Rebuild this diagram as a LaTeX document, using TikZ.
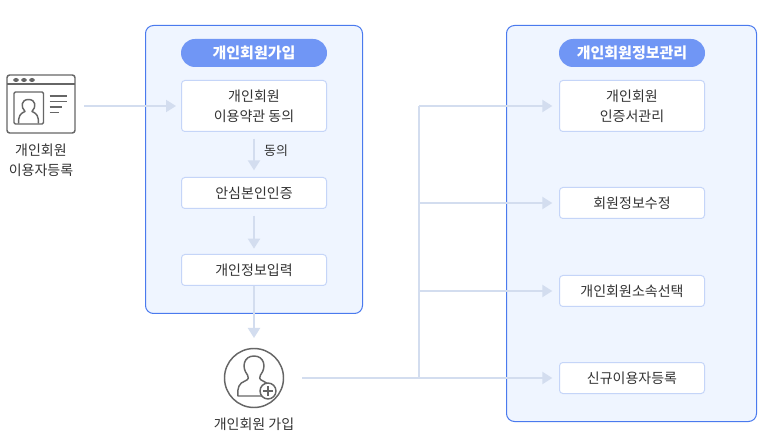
\documentclass[tikz,border=0pt]{standalone}
\usepackage{fontspec}
\setmainfont{Noto Sans CJK KR}
\usetikzlibrary{arrows.meta}
\definecolor{panelfill}{HTML}{EFF5FF}
\definecolor{panelline}{HTML}{4A7AEE}
\definecolor{pillfill}{HTML}{7096F5}
\definecolor{boxline}{HTML}{C5D5F8}
\definecolor{arrowc}{HTML}{D3DDEF}
\definecolor{iconc}{HTML}{666666}
\definecolor{textc}{HTML}{333333}
\tikzset{
  px/.style={x=0.75pt,y=-0.75pt},
  panel/.style={draw=panelline,fill=panelfill,line width=0.75pt,rounded corners=6pt},
  pill/.style={fill=pillfill,rounded corners=10.5pt,minimum width=109.5pt,minimum height=21pt,inner sep=0pt,text=white,font=\fontsize{11.25pt}{13pt}\selectfont\bfseries},
  itembox/.style={draw=boxline,fill=white,line width=0.75pt,rounded corners=2.5pt,minimum width=108.75pt,inner sep=0pt,text=textc,align=center,font=\fontsize{10.5pt}{15pt}\selectfont},
  tall/.style={minimum height=38.25pt},
  short/.style={minimum height=23.25pt},
  lbl/.style={text=textc,align=center,inner sep=0pt,font=\fontsize{10.5pt}{15pt}\selectfont},
  conn/.style={draw=arrowc,line width=1.5pt},
  flow/.style={conn,-{Triangle[length=7.5pt,width=9pt,fill=arrowc]}},
  ico/.style={draw=iconc,line width=1.1pt,line join=round},
}
\begin{document}
\begin{tikzpicture}[px]
\useasboundingbox (0,0) rectangle (772,442);
\fill[white] (0,0) rectangle (772,442);
\draw[panel] (145.5,25.5) rectangle (362.5,313.5);
\draw[panel] (506.5,25.5) rectangle (756.5,421.5);
\node[pill] (pa) at (254,53) {개인회원가입};
\node[pill] (pb) at (632,53) {개인회원정보관리};
\node[itembox,tall] (a1) at (254,106) {개인회원\\이용약관 동의};
\node[itembox,short] (a2) at (254,193) {안심본인인증};
\node[itembox,short] (a3) at (254,270) {개인정보입력};
\node[itembox,tall] (b1) at (632,106) {개인회원\\인증서관리};
\node[itembox,short] (b2) at (632,203) {회원정보수정};
\node[itembox,short] (b3) at (632,291) {개인회원소속선택};
\node[itembox,short] (b4) at (632,378) {신규이용자등록};
\node[lbl] (reglabel) at (41,160) {개인회원\\이용자등록};
\node[lbl] (joinlabel) at (254,424) {개인회원 가입};
\node[lbl,font=\fontsize{9.75pt}{12pt}\selectfont] (agree) at (276,151) {동의};
% anchors for the connectors' free ends
\coordinate (regout) at (84,106);
\coordinate (joinout) at (302,378);
\coordinate (joinin) at (254,338);
\coordinate (t1) at (419,106);
\coordinate (t2) at (419,203);
\coordinate (t3) at (419,291);
\coordinate (t4) at (419,378);
% connectors
\draw[flow,shorten >=3.75pt] (regout) -- (a1.west);
\draw[flow,shorten <=5pt,shorten >=5pt] (a1.south) -- (a2.north);
\draw[flow,shorten <=5pt,shorten >=4pt] (a2.south) -- (a3.north);
\draw[flow] (a3.south) -- (joinin);
\draw[conn] (t1) -- (t4);
\draw[flow,shorten >=5pt] (t1) -- (b1.west);
\draw[flow,shorten >=5pt] (t2) -- (b2.west);
\draw[flow,shorten >=5pt] (t3) -- (b3.west);
\draw[conn] (joinout) -- (t4);
\draw[flow,shorten >=5pt] (t4) -- (b4.west);
% registration icon
\draw[ico,rounded corners=2pt] (7,75) rectangle (75,133);
\draw[ico] (7,84) -- (75,84);
\foreach \x in {16,24,32}{\fill[iconc] (\x,80) ellipse (2.8 and 2);}
\draw[ico,rounded corners=1pt] (14,92) rectangle (43.5,124);
\draw[ico] (18.5,123.5) .. controls (18.5,116) and (20,113.5) .. (25,111.5) .. controls (20.5,107) and (21,99.5) .. (28.5,99.5) .. controls (36,99.5) and (36.5,107) .. (32,111.5) .. controls (37,113.5) and (38.5,116) .. (38.5,123.5);
\draw[ico,line width=0.9pt] (49.5,96) -- (66.5,96) (49.5,101.5) -- (66.5,101.5) (49.5,107) -- (61.5,107) (49.5,112.5) -- (59,112.5);
% join icon
\draw[ico] (254,378) circle (29.5);
\draw[ico] (238,396) .. controls (237,388) and (239,383) .. (245,381) .. controls (249,379.5) and (249,377) .. (247.5,375)
  .. controls (241,367) and (244,356) .. (254,356) .. controls (264,356) and (267,367) .. (260.5,375) .. controls (259,377) and (259,379.5) .. (263,381) .. controls (268,383) and (270,386) .. (270,396) -- cycle;
\draw[ico,fill=white] (268,391) circle (8);
\draw[iconc,line width=1.2pt] (263,391) -- (273,391) (268,386) -- (268,396);
\end{tikzpicture}
\end{document}
